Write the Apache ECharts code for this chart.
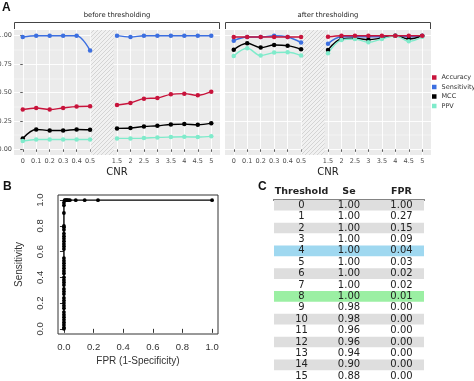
<!DOCTYPE html>
<html><head><meta charset="utf-8">
<script src="https://cdn.jsdelivr.net/npm/echarts@6/dist/echarts.min.js"></script>
<style>html,body{margin:0;padding:0;background:#fff}#c{width:474px;height:381px}</style>
</head><body><div id="c"></div>
<script>
// ---------- Panel A data ----------
const cnr = ['0','0.1','0.2','0.3','0.4','0.5','','1.5','2','2.5','3','3.5','4','4.5','5'];
const metrics = ['Accuracy','Sensitivity','MCC','PPV'];
const beforeAccuracy    = [0.350,0.364,0.350,0.364,0.376,0.379,null,0.390,0.408,0.446,0.452,0.484,0.490,0.475,0.507];
const beforeSensitivity = [0.988,1.000,1.000,1.000,1.000,0.869,null,1.000,0.988,1.000,1.000,1.000,1.000,1.000,1.000];
const beforeMCC         = [0.096,0.175,0.166,0.166,0.175,0.172,null,0.184,0.187,0.201,0.207,0.219,0.222,0.216,0.230];
const beforePPV         = [0.073,0.087,0.087,0.087,0.087,0.087,null,0.096,0.096,0.099,0.105,0.108,0.110,0.108,0.114];
const afterAccuracy     = [0.988,0.988,0.988,0.988,0.988,0.988,null,0.990,1.000,1.000,1.000,1.000,1.000,1.000,1.000];
const afterSensitivity  = [0.956,0.988,0.988,1.000,0.988,0.940,null,0.930,0.990,0.990,0.990,0.990,1.000,0.990,1.000];
const afterMCC          = [0.877,0.933,0.895,0.918,0.912,0.880,null,0.875,0.971,0.977,0.965,0.980,1.000,0.971,0.997];
const afterPPV          = [0.822,0.889,0.825,0.851,0.854,0.825,null,0.845,0.962,0.971,0.942,0.971,1.000,0.950,0.990];
const yTicksA = [0, 0.25, 0.5, 0.75, 1];
const yMinorA = [0.125, 0.375, 0.625, 0.875];

// ---------- Panel B data ----------
const rocFpr = [0,0,0,0,0,0,0,0,0,0,0,0,0,0,0,0,0,0,0,0,0,0,0,0,0,0,0,0,0,0,0,0,0,0,0,0,0,0,0,0,0.005,0.01,0.02,0.02,0.03,0.04,0.08,0.14,0.23,1.00];
const rocSe  = [0.00,0.01,0.03,0.05,0.07,0.09,0.11,0.13,0.16,0.18,0.20,0.22,0.24,0.27,0.29,0.31,0.34,0.36,0.38,0.40,0.43,0.45,0.47,0.49,0.51,0.53,0.55,0.62,0.64,0.66,0.68,0.70,0.72,0.74,0.77,0.79,0.80,0.90,0.96,0.98,1,1,1,1,1,1,1,1,1,1];
const ticksB = [0, 0.2, 0.4, 0.6, 0.8, 1.0];

// ---------- Panel C data ----------
const headers = ['Threshold','Se','FPR'];
const thresholds = [0,1,2,3,4,5,6,7,8,9,10,11,12,13,14,15];
const tableSe  = [1.00,1.00,1.00,1.00,1.00,1.00,1.00,1.00,1.00,0.98,0.98,0.96,0.96,0.94,0.90,0.88];
const tableFpr = [1.00,0.27,0.15,0.09,0.04,0.03,0.02,0.02,0.01,0.00,0.00,0.00,0.00,0.00,0.00,0.00];
const blueRow = 4, greenRow = 8;

// ---------- styles ----------
const colors = ['#C8143C','#3C6FE0','#000000','#7FEBCB'];
const fA = 'DejaVu Sans';
const fB = 'Liberation Sans';
const colX = [0.55, 1.5, 2.55];

const xIdx = cnr.map((c,i)=> c==='' ? null : i).filter(v=>v!==null);
function pts(arr){ return arr.map((v,i)=>[i, v==null ? '-' : v]); }

// hatch pattern
const pc = document.createElement('canvas');
pc.width = 4; pc.height = 4;
const px = pc.getContext('2d');
px.fillStyle = '#f1f1f1'; px.fillRect(0,0,4,4);
px.strokeStyle = '#cdcdcd'; px.lineWidth = 0.8;
px.beginPath();
px.moveTo(0,4); px.lineTo(4,0);
px.moveTo(-1,1); px.lineTo(1,-1);
px.moveTo(3,5); px.lineTo(5,3);
px.stroke();

function panelAxes(gi, showY){
  const x = {
    gridIndex: gi, type:'value', min:-0.65, max:14.65,
    axisLine:{show:false},
    axisTick:{show:true, customValues:xIdx, length:2.5, lineStyle:{color:'#333', width:0.8}},
    axisLabel:{customValues:xIdx, formatter:v=>cnr[Math.round(v)], fontSize:6.5, color:'#4d4d4d', margin:3, fontFamily:fA},
    splitLine:{show:true, lineStyle:{color:'#fff', width:0.9}},
    name:'CNR', nameLocation:'middle', nameGap:12,
    nameTextStyle:{fontSize:10, color:'#222', fontFamily:fA}
  };
  const yMaj = {
    gridIndex: gi, type:'value', min:-0.05, max:1.05,
    axisLine:{show:false},
    axisTick:{show:showY, customValues:yTicksA, length:2.5, lineStyle:{color:'#333', width:0.8}},
    axisLabel:{show:showY, customValues:yTicksA, formatter:v=>v.toFixed(2), fontSize:6.5, color:'#4d4d4d', margin:2, fontFamily:fA},
    splitLine:{show:true, lineStyle:{color:'#fff', width:0.9}}
  };
  const yMin = {
    gridIndex: gi, type:'value', min:-0.05, max:1.05, position:'left',
    axisLine:{show:false},
    axisTick:{show:false, customValues:yMinorA},
    axisLabel:{show:false, customValues:yMinorA},
    splitLine:{show:true, lineStyle:{color:'#fff', width:0.45}}
  };
  return {x, yMaj, yMin};
}
const pL = panelAxes(0, true), pR = panelAxes(1, false);

function metricSeries(xi, yi, arrs){
  return arrs.map((arr, k) => {
    const s = {
      type:'line', name:metrics[k], xAxisIndex:xi, yAxisIndex:yi,
      data:pts(arr), smooth:0.35, connectNulls:false,
      symbol:'circle', symbolSize:4.5, showSymbol:true,
      color:colors[k], lineStyle:{width:1.4, color:colors[k]},
      itemStyle:{color:colors[k]}, z:3+(k===0?1:0), silent:true
    };
    if (k===0) {
      s.markArea = {
        silent:true, label:{show:false},
        itemStyle:{color:{image:pc, repeat:'repeat'}, opacity:1},
        data:[[{xAxis:5.05},{xAxis:6.75}]]
      };
    }
    return s;
  });
}

const rowColor = i => i===blueRow ? '#9fd8f0' : (i===greenRow ? '#9befa3' : (i%2===0 ? '#dedede' : 'rgba(0,0,0,0)'));
const colTexts = [thresholds.map(String), tableSe.map(v=>v.toFixed(2)), tableFpr.map(v=>v.toFixed(2))];

const noBounds = {outerBoundsMode:'none', containLabel:false};

const option = {
  animation:false,
  backgroundColor:'#fff',
  legend:{
    data:metrics, orient:'vertical', left:432, top:74, icon:'rect',
    itemWidth:4.5, itemHeight:4.5, itemGap:2.5, padding:0,
    textStyle:{fontSize:6.5, color:'#333', fontFamily:fA}
  },
  grid:[
    Object.assign({left:14, top:30, width:206, height:125, show:true, backgroundColor:'#ebebeb', borderWidth:0}, noBounds),
    Object.assign({left:225, top:30, width:206, height:125, show:true, backgroundColor:'#ebebeb', borderWidth:0}, noBounds),
    Object.assign({left:58, top:195, width:160, height:139, show:true, borderColor:'#333', borderWidth:1, backgroundColor:'rgba(0,0,0,0)'}, noBounds),
    Object.assign({left:274, top:199.5, width:150, height:182.4}, noBounds)
  ],
  xAxis:[
    pL.x, pR.x,
    { gridIndex:2, type:'value', min:-0.04, max:1.04,
      axisLine:{show:false},
      axisTick:{show:true, customValues:ticksB, length:4, lineStyle:{color:'#333'}},
      axisLabel:{customValues:ticksB, formatter:v=>v.toFixed(1), fontSize:9.5, color:'#333', margin:8, fontFamily:fB},
      splitLine:{show:false},
      name:'FPR (1-Specificity)', nameLocation:'middle', nameGap:22,
      nameTextStyle:{fontSize:10, color:'#333', fontFamily:fB}
    },
    { gridIndex:3, type:'value', min:0, max:3, show:false },
    { gridIndex:3, type:'value', min:0, max:3, position:'top',
      axisLine:{show:true, lineStyle:{color:'#666', width:2}},
      axisTick:{show:false}, splitLine:{show:false},
      axisLabel:{customValues:colX, formatter:v=>{let b=0;for(let i=1;i<colX.length;i++){if(Math.abs(colX[i]-v)<Math.abs(colX[b]-v))b=i;}return headers[b];},
        fontSize:9.5, fontWeight:'bold', color:'#222', margin:3, fontFamily:fA}
    }
  ],
  yAxis:[
    pL.yMaj, pL.yMin, pR.yMaj, pR.yMin,
    { gridIndex:2, type:'value', min:-0.04, max:1.04,
      axisLine:{show:false},
      axisTick:{show:true, customValues:ticksB, length:4, lineStyle:{color:'#333'}},
      axisLabel:{customValues:ticksB, formatter:v=>v.toFixed(1), fontSize:9.5, color:'#333', margin:13, rotate:90, fontFamily:fB},
      splitLine:{show:false},
      name:'Sensitivity', nameLocation:'middle', nameGap:34, nameRotate:90,
      nameTextStyle:{fontSize:10, color:'#333', fontFamily:fB}
    },
    { gridIndex:3, type:'category', data:thresholds.map(String), inverse:true, show:false }
  ],
  series:[
    ...metricSeries(0, 0, [beforeAccuracy, beforeSensitivity, beforeMCC, beforePPV]),
    ...metricSeries(1, 2, [afterAccuracy, afterSensitivity, afterMCC, afterPPV]),
    { type:'line', name:'ROC', xAxisIndex:2, yAxisIndex:4,
      data:rocFpr.map((x,i)=>[x, rocSe[i]]),
      symbol:'circle', symbolSize:3.8, showSymbol:true, color:'#000',
      lineStyle:{width:1.4, color:'#000'}, itemStyle:{color:'#000'}, silent:true },
    { type:'bar', name:'rows', xAxisIndex:3, yAxisIndex:5, barCategoryGap:'6%', silent:true,
      data:thresholds.map((t,i)=>({value:3, itemStyle:{color:rowColor(i)}})) },
    ...colTexts.map((txt, c) => ({
      type:'scatter', name:'col'+c, xAxisIndex:3, yAxisIndex:5, symbolSize:1, silent:true, z:5,
      itemStyle:{color:'rgba(0,0,0,0)'},
      data:txt.map((t,i)=>[colX[c], i, t]),
      label:{show:true, position:'inside', formatter:p=>p.data[2], fontSize:10, color:'#222', opacity:1,
        textBorderWidth:0, fontFamily:fA}
    }))
  ],
  graphic:[
    {type:'text', left:2, top:2, style:{text:'A', font:'bold 12px "Liberation Sans"', fill:'#111'}},
    {type:'text', left:3, top:181, style:{text:'B', font:'bold 12px "Liberation Sans"', fill:'#111'}},
    {type:'text', left:258, top:181, style:{text:'C', font:'bold 12px "Liberation Sans"', fill:'#111'}},
    {type:'text', x:117, y:15.5, style:{text:'before thresholding', font:'6.8px "DejaVu Sans"', fill:'#1a1a1a', align:'center', verticalAlign:'middle'}},
    {type:'text', x:328, y:15.5, style:{text:'after thresholding', font:'6.8px "DejaVu Sans"', fill:'#1a1a1a', align:'center', verticalAlign:'middle'}},
    {type:'polyline', shape:{points:[[14.5,29],[14.5,22.5],[219.5,22.5],[219.5,29]]}, style:{stroke:'#444', lineWidth:1, fill:null}},
    {type:'polyline', shape:{points:[[225.5,29],[225.5,22.5],[430.5,22.5],[430.5,29]]}, style:{stroke:'#444', lineWidth:1, fill:null}}
  ]
};

const chart = echarts.init(document.getElementById('c'), null, {renderer:'canvas'});
chart.setOption(option);
</script>
</body></html>
